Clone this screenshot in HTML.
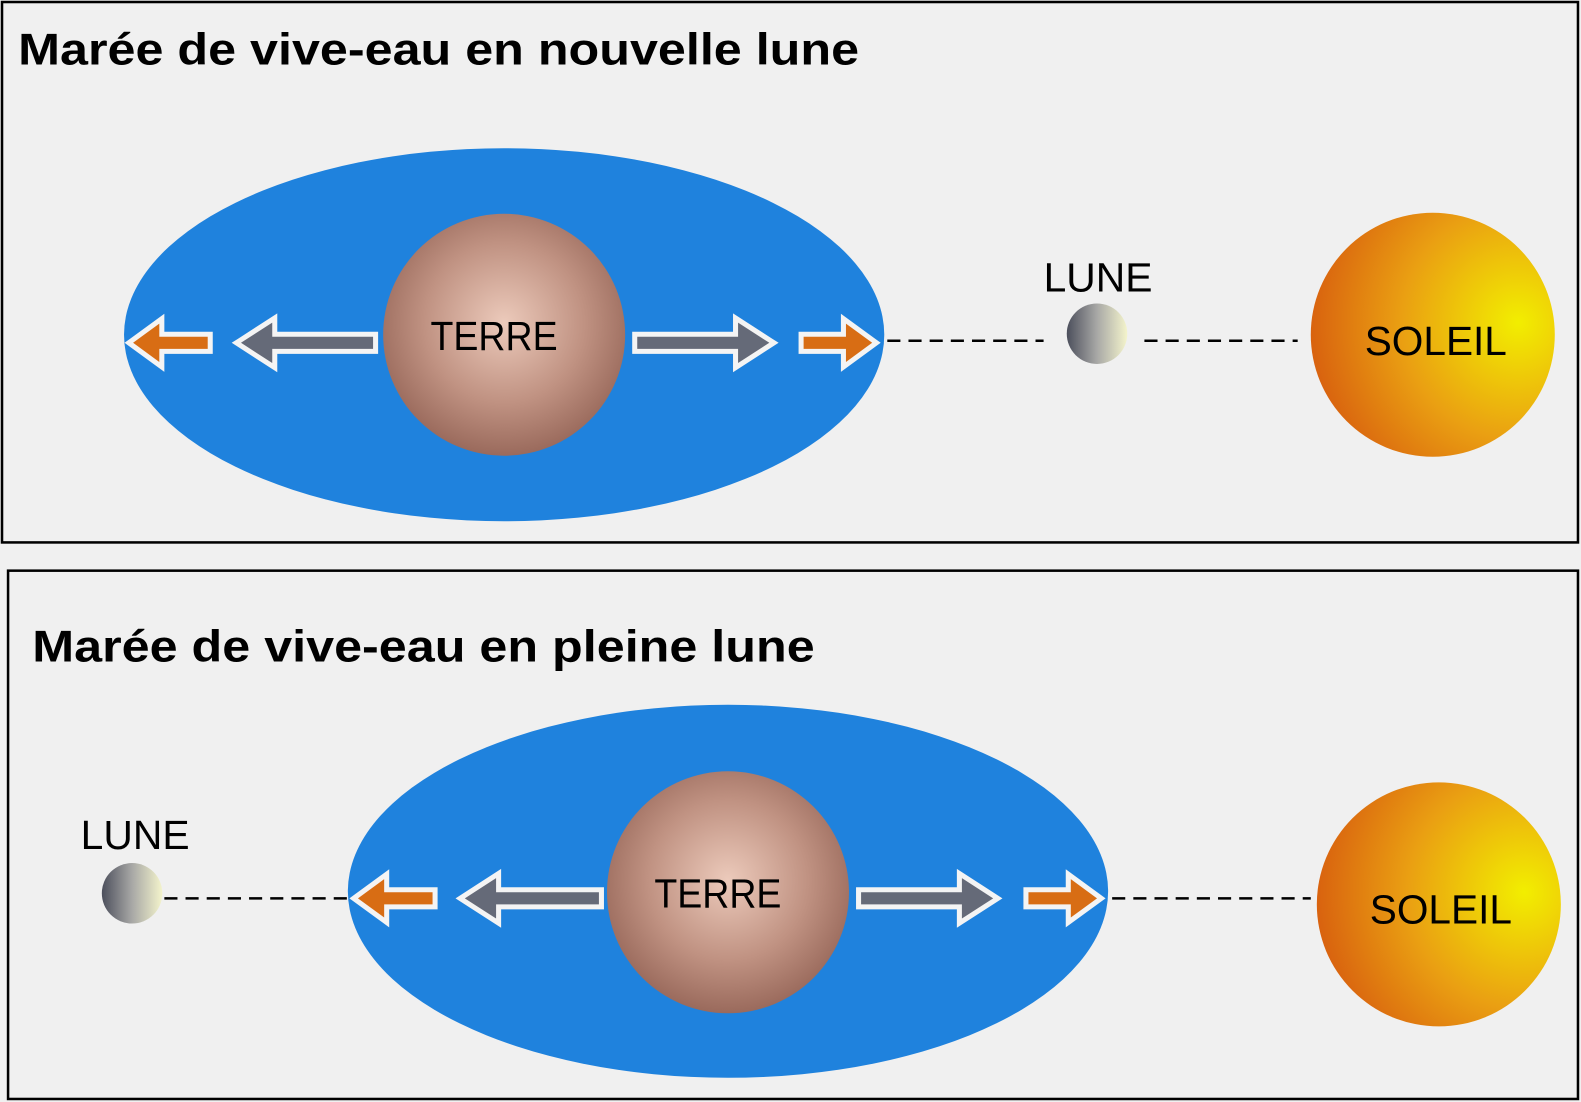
<!DOCTYPE html>
<html><head><meta charset="utf-8"><style>
html,body{margin:0;padding:0;background:#f0f0f0;}
svg{display:block;}
text{font-family:"Liberation Sans",Arial,sans-serif;fill:#000;}
</style></head><body>
<svg width="1581" height="1102" viewBox="0 0 1568 1093" preserveAspectRatio="none" xmlns="http://www.w3.org/2000/svg">
<defs>
<radialGradient id="earth" cx="50%" cy="45%" r="55%">
<stop offset="0" stop-color="#eccabb"/><stop offset="0.6" stop-color="#c09282"/><stop offset="1" stop-color="#9a6a5c"/>
</radialGradient>
<radialGradient id="sun" cx="85%" cy="45%" r="95%">
<stop offset="0" stop-color="#f2ee00"/><stop offset="0.5" stop-color="#eaa012"/><stop offset="1" stop-color="#d4520e"/>
</radialGradient>
<linearGradient id="moon" x1="0" y1="0" x2="1" y2="0">
<stop offset="0" stop-color="#4c4f5c"/><stop offset="0.5" stop-color="#a8a8a6"/><stop offset="1" stop-color="#f4f4cc"/>
</linearGradient>
</defs>
<rect x="0" y="0" width="1568" height="1093" fill="#f0f0f0"/>
<rect x="2" y="2" width="1563" height="536" fill="none" stroke="#000" stroke-width="2.5"/>
<rect x="8" y="566" width="1557" height="524" fill="none" stroke="#000" stroke-width="2.5"/>
<text x="18" y="64" font-size="44" font-weight="bold" textLength="834" lengthAdjust="spacingAndGlyphs">Marée de vive-eau en nouvelle lune</text>
<text x="32" y="656" font-size="44" font-weight="bold" textLength="776" lengthAdjust="spacingAndGlyphs">Marée de vive-eau en pleine lune</text>

<!-- panel 1 -->
<ellipse cx="500" cy="332" rx="377" ry="185" fill="#1f82dd"/>
<circle cx="500" cy="332" r="120" fill="url(#earth)"/>
<text x="490" y="347" font-size="40" text-anchor="middle" textLength="126" lengthAdjust="spacingAndGlyphs">TERRE</text>
<g stroke="#f4f4f4" stroke-width="10" paint-order="stroke" stroke-linejoin="miter">
<path d="M132,340 L158,321 L158,334 L206,334 L206,346 L158,346 L158,359 Z" fill="#d86d14"/>
<path d="M239,340 L270,320 L270,334 L370,334 L370,346 L270,346 L270,360 Z" fill="#656a78"/>
<path d="M763,340 L732,320 L732,334 L632,334 L632,346 L732,346 L732,360 Z" fill="#656a78"/>
<path d="M865,340 L839,321 L839,334 L797,334 L797,346 L839,346 L839,359 Z" fill="#d86d14"/>
</g>
<line x1="880" y1="338" x2="1035" y2="338" stroke="#000" stroke-width="2.5" stroke-dasharray="13,8"/>
<line x1="1135" y1="338" x2="1287" y2="338" stroke="#000" stroke-width="2.5" stroke-dasharray="13,8"/>
<circle cx="1088" cy="331" r="30" fill="url(#moon)"/>
<text x="1089" y="289" font-size="40" text-anchor="middle" textLength="108" lengthAdjust="spacingAndGlyphs">LUNE</text>
<circle cx="1421" cy="332" r="121" fill="url(#sun)"/>
<text x="1424" y="352" font-size="40" text-anchor="middle" textLength="141" lengthAdjust="spacingAndGlyphs">SOLEIL</text>

<!-- panel 2 -->
<ellipse cx="722" cy="884" rx="377" ry="185" fill="#1f82dd"/>
<circle cx="722" cy="885" r="120" fill="url(#earth)"/>
<text x="712" y="900" font-size="40" text-anchor="middle" textLength="126" lengthAdjust="spacingAndGlyphs">TERRE</text>
<g stroke="#f4f4f4" stroke-width="10" paint-order="stroke" stroke-linejoin="miter">
<path d="M355,891 L381,872 L381,885 L429,885 L429,897 L381,897 L381,910 Z" fill="#d86d14"/>
<path d="M461,891 L492,871 L492,885 L594,885 L594,897 L492,897 L492,911 Z" fill="#656a78"/>
<path d="M985,891 L954,871 L954,885 L854,885 L854,897 L954,897 L954,911 Z" fill="#656a78"/>
<path d="M1088,891 L1062,872 L1062,885 L1020,885 L1020,897 L1062,897 L1062,910 Z" fill="#d86d14"/>
</g>
<line x1="163" y1="891" x2="350" y2="891" stroke="#000" stroke-width="2.5" stroke-dasharray="13,8"/>
<line x1="1103" y1="891" x2="1300" y2="891" stroke="#000" stroke-width="2.5" stroke-dasharray="13,8"/>
<circle cx="131" cy="886" r="30" fill="url(#moon)"/>
<text x="134" y="842" font-size="40" text-anchor="middle" textLength="108" lengthAdjust="spacingAndGlyphs">LUNE</text>
<circle cx="1427" cy="897" r="121" fill="url(#sun)"/>
<text x="1429" y="916" font-size="40" text-anchor="middle" textLength="141" lengthAdjust="spacingAndGlyphs">SOLEIL</text>
</svg>
</body></html>
